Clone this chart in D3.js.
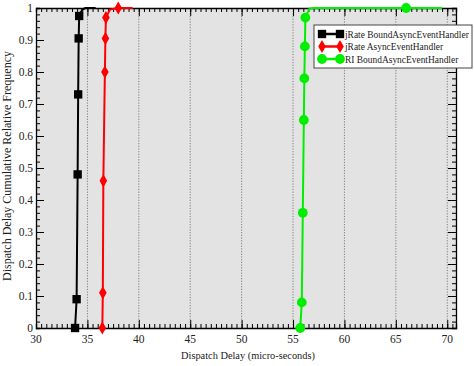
<!DOCTYPE html>
<html>
<head>
<meta charset="utf-8">
<script src="https://cdn.jsdelivr.net/npm/d3@7"></script>
<style>
body{margin:0;background:#fff;}
</style>
</head>
<body>
<script>
// data
const seriesNames=["jRate BoundAsyncEventHandler","jRate AsyncEventHandler","RI BoundAsyncEventHandler"];
const seriesColors=["#000000","#ff0000","#00ee00"];
const seriesShapes=["square","diamond","circle"];

const boundX=[33.8,33.95,34.05,34.1,34.15,34.2,34.5,34.8,35.8];
const boundY=[0,0.09,0.48,0.73,0.905,0.975,0.995,1,1];
const boundMarks=[0,1,2,3,4,5];

const asyncX=[36.45,36.5,36.55,36.7,36.75,36.8,37.2,38,39.4];
const asyncY=[0,0.11,0.46,0.80,0.905,0.97,0.995,1,1];
const asyncMarks=[0,1,2,3,4,5,7];

const riX=[55.7,55.85,55.95,56.05,56.1,56.15,56.2,56.6,57,66,69.5];
const riY=[0,0.08,0.36,0.65,0.78,0.88,0.97,0.998,1,1,1];
const riMarks=[0,1,2,3,4,5,6,9];

const xTicks=[30,35,40,45,50,55,60,65,70];
const yTicks=[0,0.1,0.2,0.3,0.4,0.5,0.6,0.7,0.8,0.9,1];

const W=474,H=366;
const m={l:36,t:8,r:18,b:38};
const FONT="Liberation Serif";
const svg=d3.select("body").append("svg").attr("width",W).attr("height",H);

const x=d3.scaleLinear().domain([30,70.85]).range([m.l,W-m.r]);
const y=d3.scaleLinear().domain([0,1]).range([H-m.b,m.t]);

// shrink a text's font until it fits a width
function fit(t,maxW){
  const w=t.node().getComputedTextLength();
  if(w>maxW) t.attr("font-size",+t.attr("font-size")*maxW/w);
  return t;
}

//plot background
svg.append("rect").attr("x",m.l).attr("y",m.t)
  .attr("width",W-m.r-m.l).attr("height",H-m.b-m.t).attr("fill","#e3e3e3");

//vertical dotted grid
svg.append("g").selectAll("line").data(xTicks.slice(1)).enter().append("line")
  .attr("x1",d=>x(d)).attr("x2",d=>x(d)).attr("y1",m.t).attr("y2",H-m.b)
  .attr("stroke","#666").attr("stroke-width",0.8).attr("stroke-dasharray","1.2,1.5");

//axes, ticks inward
const xMinor=d3.range(30,71,0.5);
const yMinor=d3.range(0,1.001,0.02);
function axisG(axis,tx,ty){
  return svg.append("g").attr("transform","translate("+tx+","+ty+")").call(axis)
    .call(g=>g.select(".domain").attr("stroke-width",1.3));
}
axisG(d3.axisTop(x).tickValues(xMinor).tickSize(4).tickFormat(""),0,H-m.b);
axisG(d3.axisTop(x).tickValues(xTicks).tickSize(8).tickFormat(""),0,H-m.b).select(".domain").remove();
axisG(d3.axisBottom(x).tickValues(xMinor).tickSize(4).tickFormat(""),0,m.t);
axisG(d3.axisBottom(x).tickValues(xTicks).tickSize(8).tickFormat(""),0,m.t).select(".domain").remove();
axisG(d3.axisRight(y).tickValues(yMinor).tickSize(4).tickFormat(""),m.l,0);
axisG(d3.axisRight(y).tickValues(yTicks).tickSize(8).tickFormat(""),m.l,0).select(".domain").remove();
axisG(d3.axisLeft(y).tickValues(yMinor).tickSize(4).tickFormat(""),W-m.r,0);
axisG(d3.axisLeft(y).tickValues(yTicks).tickSize(8).tickFormat(""),W-m.r,0).select(".domain").remove();
svg.selectAll(".tick line").attr("stroke","#000");

//tick labels
svg.append("g").selectAll("text").data(xTicks).enter().append("text")
  .attr("x",d=>x(d)).attr("y",H-m.b+15).attr("text-anchor","middle")
  .attr("font-family",FONT).attr("font-size",11.5).attr("fill","#222").text(d=>d);
svg.append("g").selectAll("text").data(yTicks).enter().append("text")
  .attr("x",m.l-3).attr("y",d=>y(d)+4).attr("text-anchor","end")
  .attr("font-family",FONT).attr("font-size",11.5).attr("fill","#222").text(d=>d);

//titles
fit(svg.append("text").attr("x",248).attr("y",H-7).attr("text-anchor","middle")
  .attr("font-family",FONT).attr("font-size",11).attr("fill","#222").text("Dispatch Delay (micro-seconds)"),134);
fit(svg.append("text").attr("transform","translate(11,166) rotate(-90)")
  .attr("text-anchor","middle").attr("font-family",FONT).attr("font-size",12).attr("fill","#222")
  .text("Dispatch Delay Cumulative Relative Frequency"),246);

//series
const series=[
  {xs:boundX,ys:boundY,marks:boundMarks},
  {xs:asyncX,ys:asyncY,marks:asyncMarks},
  {xs:riX,ys:riY,marks:riMarks}
];
const line=d3.line().x(d=>x(d[0])).y(d=>y(d[1])).curve(d3.curveLinear);
const symbols={square:d3.symbolSquare,diamond:d3.symbolDiamond,circle:d3.symbolCircle};
const symSize={square:70,diamond:50,circle:75};

series.forEach((s,i)=>{
  const pts=s.xs.map((v,j)=>[v,s.ys[j]]);
  svg.append("path").attr("d",line(pts)).attr("fill","none")
    .attr("stroke",seriesColors[i]).attr("stroke-width",2);
  svg.append("g").selectAll("path").data(s.marks.map(j=>pts[j])).enter().append("path")
    .attr("transform",d=>"translate("+x(d[0])+","+y(d[1])+")")
    .attr("d",d3.symbol().type(symbols[seriesShapes[i]]).size(symSize[seriesShapes[i]]))
    .attr("fill",seriesColors[i]);
});

//legend
const lg=svg.append("g").attr("transform","translate(314,25)");
lg.append("rect").attr("width",158).attr("height",43).attr("fill","#fff")
  .attr("stroke","#444").attr("stroke-width",1);
const labels=[];
seriesNames.forEach((n,i)=>{
  const ly=9+i*12.5;
  lg.append("line").attr("x1",8).attr("x2",26).attr("y1",ly).attr("y2",ly)
    .attr("stroke",seriesColors[i]).attr("stroke-width",2.5);
  [8,26].forEach(px=>{
    lg.append("path").attr("transform","translate("+px+","+ly+")")
      .attr("d",d3.symbol().type(symbols[seriesShapes[i]]).size(symSize[seriesShapes[i]]))
      .attr("fill",seriesColors[i]);
  });
  labels.push(lg.append("text").attr("x",31).attr("y",ly+3.5).attr("font-family",FONT).attr("font-size",11)
    .attr("fill","#222").text(n));
});
fit(labels[0],124);
labels.forEach(t=>t.attr("font-size",labels[0].attr("font-size")));
</script>
</body>
</html>
